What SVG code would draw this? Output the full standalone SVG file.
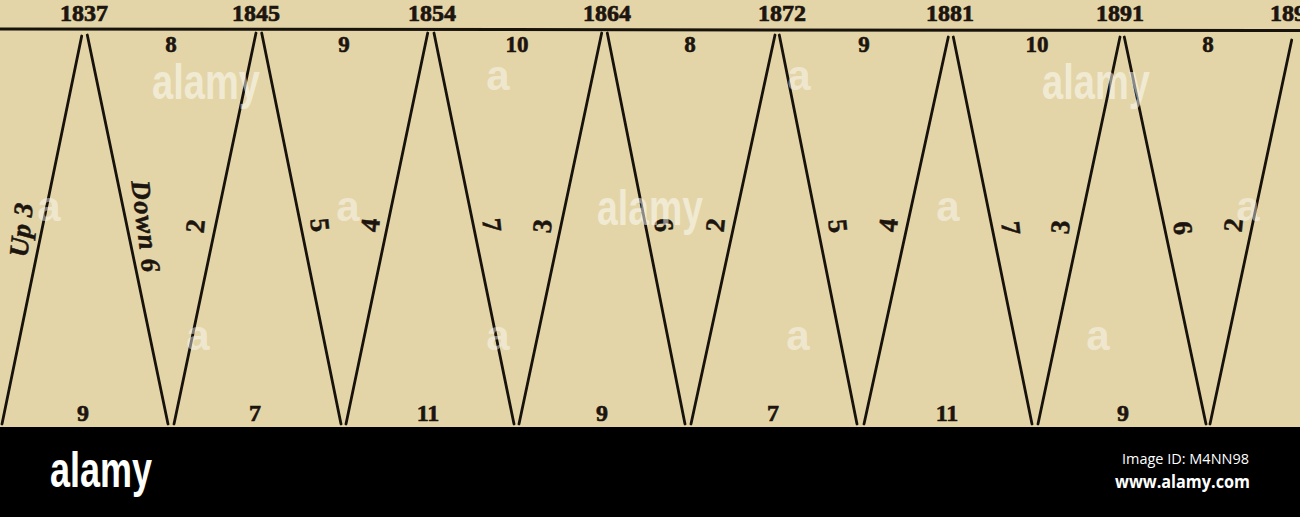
<svg xmlns="http://www.w3.org/2000/svg" width="1300" height="517" viewBox="0 0 1300 517">
<style>
.yr{font-family:"Liberation Serif",serif;font-weight:bold;font-size:24px;fill:#1c140e;stroke:#1c140e;stroke-width:0.7px;text-anchor:middle}
.n{font-family:"Liberation Serif",serif;font-weight:bold;font-size:23px;fill:#1c140e;stroke:#1c140e;stroke-width:0.6px;text-anchor:middle}
.b{font-size:24px}
.r{font-family:"Liberation Serif",serif;font-weight:bold;font-size:27px;fill:#1c140e;stroke:#1c140e;stroke-width:0.5px;text-anchor:middle}
.it{font-style:italic}
.z{stroke:#18120c;stroke-width:2.8;stroke-linecap:round;fill:none}
.wm{font-family:"Liberation Sans",sans-serif;font-weight:bold;fill:#ffffff;fill-opacity:0.5}
.wa{font-family:"Liberation Sans",sans-serif;font-weight:bold;font-size:42px;fill:#ffffff;fill-opacity:0.45;text-anchor:middle}
</style>
<rect x="0" y="0" width="1300" height="517" fill="#e3d5a7"/>
<g id="timeline">
<line x1="0" y1="29" x2="1300" y2="30.5" stroke="#18120c" stroke-width="3"/>
</g>
<g id="years">
<text class="yr" x="84" y="21">1837</text>
<text class="yr" x="256" y="21">1845</text>
<text class="yr" x="432" y="21">1854</text>
<text class="yr" x="607" y="21">1864</text>
<text class="yr" x="782" y="21">1872</text>
<text class="yr" x="950" y="21">1881</text>
<text class="yr" x="1120" y="21">1891</text>
<text class="yr" x="1270" y="21" style="text-anchor:start">1899</text>
</g>
<g id="connectors">
<line class="z" x1="2" y1="424" x2="81.7" y2="36"/>
<line class="z" x1="87.3" y1="35" x2="168" y2="424"/>
<line class="z" x1="174" y1="424" x2="256" y2="33"/>
<line class="z" x1="261.7" y1="33" x2="341" y2="424"/>
<line class="z" x1="346" y1="424" x2="427.7" y2="33"/>
<line class="z" x1="434" y1="33" x2="514" y2="424"/>
<line class="z" x1="519" y1="424" x2="601.7" y2="33"/>
<line class="z" x1="607.3" y1="33" x2="685" y2="424"/>
<line class="z" x1="691" y1="424" x2="775" y2="35"/>
<line class="z" x1="779.3" y1="35" x2="857" y2="424"/>
<line class="z" x1="864" y1="424" x2="948.3" y2="37"/>
<line class="z" x1="953.3" y1="37" x2="1032" y2="424"/>
<line class="z" x1="1038" y1="424" x2="1120" y2="37"/>
<line class="z" x1="1124.3" y1="37" x2="1206" y2="424"/>
<line class="z" x1="1210" y1="424" x2="1291.7" y2="40"/>
</g>
<g id="top-intervals">
<text class="n" x="171" y="52">8</text>
<text class="n" x="344" y="52">9</text>
<text class="n" x="517" y="52">10</text>
<text class="n" x="690" y="52">8</text>
<text class="n" x="864" y="52">9</text>
<text class="n" x="1037" y="52">10</text>
<text class="n" x="1208" y="52">8</text>
</g>
<g id="bottom-intervals">
<text class="n b" x="83" y="421">9</text>
<text class="n b" x="255" y="421">7</text>
<text class="n b" x="428" y="421">11</text>
<text class="n b" x="602" y="421">9</text>
<text class="n b" x="773" y="421">7</text>
<text class="n b" x="947" y="421">11</text>
<text class="n b" x="1123" y="421">9</text>
</g>
<g id="slope-labels">
<text class="r it" dy="0.34em" textLength="54" transform="translate(21,230) rotate(-84)">Up 3</text>
<text class="r it" dy="0.34em" textLength="92" transform="translate(146,226) rotate(83)">Down 6</text>
<text class="r" dy="0.34em" transform="translate(195,226) rotate(-84)">2</text>
<text class="r" dy="0.34em" transform="translate(320,225) rotate(84)">5</text>
<text class="r" dy="0.34em" transform="translate(370,225) rotate(-84)">4</text>
<text class="r" dy="0.34em" transform="translate(492,225) rotate(84)">7</text>
<text class="r" dy="0.34em" transform="translate(542,226) rotate(-84)">3</text>
<text class="r" dy="0.34em" transform="translate(664,225) rotate(84)">6</text>
<text class="r" dy="0.34em" transform="translate(715,225) rotate(-84)">2</text>
<text class="r" dy="0.34em" transform="translate(838,226) rotate(84)">5</text>
<text class="r" dy="0.34em" transform="translate(888,225) rotate(-84)">4</text>
<text class="r" dy="0.34em" transform="translate(1011,228) rotate(84)">7</text>
<text class="r" dy="0.34em" transform="translate(1060,227) rotate(-84)">3</text>
<text class="r" dy="0.34em" transform="translate(1183,228) rotate(84)">6</text>
<text class="r" dy="0.34em" transform="translate(1233,225) rotate(-84)">2</text>
</g>
<g id="watermark">
<text class="wm" x="152" y="99" font-size="50" textLength="108" lengthAdjust="spacingAndGlyphs">alamy</text>
<text class="wm" x="1042" y="99" font-size="50" textLength="108" lengthAdjust="spacingAndGlyphs">alamy</text>
<text class="wm" x="597" y="225" font-size="50" textLength="106" lengthAdjust="spacingAndGlyphs">alamy</text>
<text class="wa" x="498" y="90">a</text>
<text class="wa" x="799" y="90">a</text>
<text class="wa" x="49" y="221">a</text>
<text class="wa" x="348" y="221">a</text>
<text class="wa" x="948" y="221">a</text>
<text class="wa" x="1248" y="221">a</text>
<text class="wa" x="198" y="350">a</text>
<text class="wa" x="498" y="350">a</text>
<text class="wa" x="798" y="350">a</text>
<text class="wa" x="1098" y="350">a</text>
</g>
<g id="footer">
<rect x="0" y="427" width="1300" height="90" fill="#000000"/>
<text x="50" y="487" font-family="Liberation Sans, sans-serif" font-weight="bold" font-size="50" fill="#ffffff" textLength="102" lengthAdjust="spacingAndGlyphs">alamy</text>
<text x="1122" y="464" font-family="Open Sans, sans-serif" font-size="15" fill="#ffffff" textLength="127" lengthAdjust="spacingAndGlyphs">Image ID: M4NN98</text>
<text x="1115" y="488" font-family="Open Sans, sans-serif" font-weight="bold" font-size="17" fill="#ffffff" textLength="135" lengthAdjust="spacingAndGlyphs">www.alamy.com</text>
</g>
</svg>
